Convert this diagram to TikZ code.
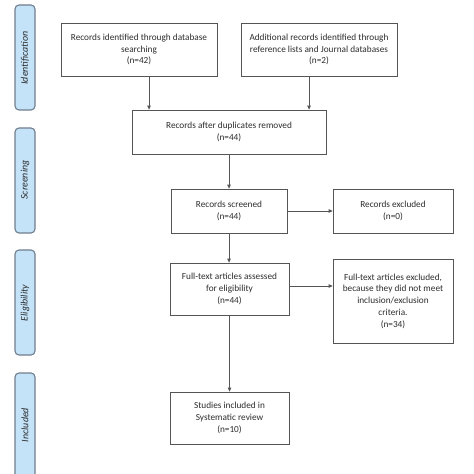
\documentclass[tikz,border=0pt]{standalone}
\usepackage{fontspec}
\setmainfont{Carlito}
\usetikzlibrary{arrows.meta}
\definecolor{barfill}{RGB}{196,227,249}
\definecolor{barline}{RGB}{112,126,140}
\definecolor{boxline}{RGB}{85,85,85}
\definecolor{txt}{RGB}{45,45,45}
\tikzset{
  flowbox/.style={draw=boxline, line width=0.8bp, fill=white, align=center, inner sep=2bp,
    font=\fontsize{9.3}{11.8}\selectfont, text=txt},
  sidebar/.style={draw=barline, line width=1.1bp, fill=barfill, rounded corners=4bp},
  sidelabel/.style={rotate=90, font=\fontsize{10}{12}\selectfont\itshape, text=txt},
  arr/.style={draw=boxline, line width=0.9bp, -{Triangle[length=4bp,width=3.6bp]}}
}
\begin{document}
\begin{tikzpicture}[x=1bp,y=-1bp]
\useasboundingbox (0,0) rectangle (474,474);
\fill[white] (0,0) rectangle (474,474);
% side bars
\draw[sidebar] (15,5) rectangle (35,110);
\node[sidelabel] (lid) at (25,58) {Identification};
\draw[sidebar] (15,128) rectangle (35,233);
\node[sidelabel] (lsc) at (25,180) {Screening};
\draw[sidebar] (15,250) rectangle (35,355);
\node[sidelabel] (lel) at (25,303) {Eligibility};
\draw[sidebar] (15,373) rectangle (35,495);
\node[sidelabel] (lin) at (25,425) {Included};
% boxes
\node[flowbox, minimum width=156bp, minimum height=53bp] (b1) at (139,49.5)
  {Records identified through database\\searching\\(n=42)};
\node[flowbox, minimum width=156bp, minimum height=53bp] (b2) at (319,49.5)
  {Additional records identified through\\reference lists and Journal databases\\(n=2)};
\node[flowbox, minimum width=194bp, minimum height=44bp] (dup) at (229,132)
  {Records after duplicates removed\\(n=44)};
\node[flowbox, minimum width=116bp, minimum height=44bp] (scr) at (229,211)
  {Records screened\\(n=44)};
\node[flowbox, minimum width=120bp, minimum height=44bp] (exc) at (393,211)
  {Records excluded\\(n=0)};
\node[flowbox, minimum width=119bp, minimum height=52bp] (full) at (229.5,289)
  {Full-text articles assessed\\for eligibility\\(n=44)};
\node[flowbox, minimum width=120bp, minimum height=84bp] (fexc) at (393,301)
  {Full-text articles excluded,\\because they did not meet\\inclusion/exclusion\\criteria.\\(n=34)};
\node[flowbox, minimum width=119bp, minimum height=52bp] (stud) at (229.5,418)
  {Studies included in\\Systematic review\\(n=10)};
% connectors
\draw[arr] ([xshift=10bp]b1.south) -- ([xshift=10bp]b1.south |- dup.north);
\draw[arr] ([xshift=-10bp]b2.south) -- ([xshift=-10bp]b2.south |- dup.north);
\draw[arr] (dup.south) -- (scr.north);
\draw[arr] (scr.east) -- (exc.west |- scr.east);
\draw[arr] (scr.south) -- (scr.south |- full.north);
\draw[arr] ([yshift=3bp]full.east) -- ([yshift=3bp]fexc.west |- full.east);
\draw[arr] (full.south) -- (full.south |- stud.north);
\end{tikzpicture}
\end{document}
